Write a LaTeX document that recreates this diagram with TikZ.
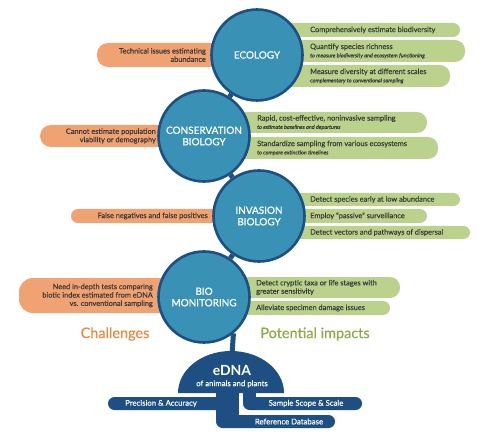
\documentclass[tikz,border=0pt]{standalone}
\usepackage{fontspec}
\setmainfont{Lato}
\newfontfamily\medfont{Lato}[FakeBold=0.7]
\newfontfamily\barfont{Lato}[FakeBold=0.3]
\definecolor{ednaNavy}{HTML}{1D4F82}
\definecolor{ednaTeal}{HTML}{3A91B6}
\definecolor{ednaGreen}{HTML}{BAD28C}
\definecolor{ednaOrange}{HTML}{F1A272}
\definecolor{ednaText}{HTML}{3A3A3A}
\definecolor{ednaOrangeDeep}{HTML}{E38D48}
\definecolor{ednaGreenDeep}{HTML}{8EAB4B}

\begin{document}
\begin{tikzpicture}[x=1bp,y=-1bp,
  hub/.style={circle,minimum size=91bp,inner sep=0pt,fill=ednaTeal,draw=ednaNavy,line width=2.6bp,
    text=white,align=center,font=\fontsize{10}{11.5}\medfont},
  trunk/.style={ednaNavy,line width=5bp},
  gbar/.style={fill=ednaGreen},
  obar/.style={fill=ednaOrange},
  nbar/.style={fill=ednaNavy},
  gtxt/.style={anchor=west,align=left,inner sep=0pt,text=ednaText,font=\fontsize{7.4}{8.4}\barfont},
  otxt/.style={anchor=east,align=right,inner sep=0pt,text=ednaText,font=\fontsize{7.4}{8.4}\barfont},
  ntxt/.style={inner sep=0pt,text=white,font=\fontsize{7.8}{9}\barfont}]
\useasboundingbox (0,0) rectangle (500,435);
\newcommand\sub[1]{{\fontsize{5.5}{6.5}\selectfont\itshape #1}}

% challenge bars
\fill[obar,rounded corners=11bp] (97,43) rectangle (240,67);
\fill[obar,rounded corners=11bp] (40,125) rectangle (190,147);
\fill[obar,rounded corners=7bp] (71,209) rectangle (240,223);
\fill[obar,rounded corners=14bp] (19,278) rectangle (190,313);

% impact bars
\fill[gbar,rounded corners=7bp] (280,23) rectangle (460,37);
\fill[gbar,rounded corners=10bp] (280,40) rectangle (465,62);
\fill[gbar,rounded corners=10bp] (280,65) rectangle (450,87);
\fill[gbar,rounded corners=10bp] (230,112) rectangle (427,133);
\fill[gbar,rounded corners=10bp] (230,137) rectangle (438,159);
\fill[gbar,rounded corners=6.5bp] (290,193) rectangle (460,206);
\fill[gbar,rounded corners=7bp] (290,209) rectangle (427,223);
\fill[gbar,rounded corners=6.5bp] (290,226) rectangle (470,239);
\fill[gbar,rounded corners=10bp] (230,277) rectangle (400,298);
\fill[gbar,rounded corners=7bp] (230,301) rectangle (390,315);

% circles
\node[hub] (eco) at (257,55) {ECOLOGY};
\node[hub] (cons) at (204,136) {CONSERVATION\\BIOLOGY};
\node[hub] (inv) at (259,216) {INVASION\\BIOLOGY};
\node[hub] (bio) at (204,297) {BIO\\MONITORING};
\coordinate (ednatop) at (232,354);
\draw[trunk] (eco) -- (cons);
\draw[trunk] (cons) -- (inv);
\draw[trunk] (inv) -- (bio);
\draw[trunk] (bio.-51) -- (ednatop);

% eDNA base
\fill[nbar] (178,393) arc[start angle=180,end angle=0,x radius=53bp,y radius=42bp] -- cycle;
\fill[nbar] (216,390) rectangle (239,420);
\fill[nbar,rounded corners=6.5bp] (108,397) rectangle (224,410);
\fill[nbar,rounded corners=6.5bp] (243,397) rectangle (362,410);
\fill[nbar] (243,390) rectangle (256,402);
\fill[nbar,rounded corners=6.5bp] (216,415) rectangle (335,428);
\node[inner sep=0pt,text=white,font=\fontsize{14}{16}\selectfont\bfseries] (edna) at (232,371) {eDNA};
\node[ntxt,font=\fontsize{7.8}{9}\medfont] (ednasub) at (232,384) {of animals and plants};
\node[ntxt] (prec) at (161,403.5) {Precision \& Accuracy};
\node[ntxt] (scope) at (306,403.5) {Sample Scope \& Scale};
\node[ntxt] (refdb) at (289,421.5) {Reference Database};

% texts
\node[otxt] (ecoC) at (206,55) {Technical issues estimating\\abundance};
\node[otxt] (consC) at (156,136) {Cannot estimate population\\viability or demography};
\node[otxt] (invC) at (208,216) {False negatives and false positives};
\node[otxt] (bioC) at (153,295.5) {Need in-depth tests comparing\\biotic index estimated from eDNA\\vs. conventional sampling};

\node[gtxt] (ecoP1) at (310,30) {Comprehensively estimate biodiversity};
\node[gtxt] (ecoP2) at (310,51) {Quantify species richness\\\sub{to measure biodiversity and ecosystem functioning}};
\node[gtxt] (ecoP3) at (310,76) {Measure diversity at different scales\\\sub{complementary to conventional sampling}};
\node[gtxt] (consP1) at (257,122.5) {Rapid, cost-effective, noninvasive sampling\\\sub{to estimate baselines and departures}};
\node[gtxt] (consP2) at (257,148) {Standardize sampling from various ecosystems\\\sub{to compare extinction timelines}};
\node[gtxt] (invP1) at (310,199.5) {Detect species early at low abundance};
\node[gtxt] (invP2) at (310,216) {Employ “passive” surveillance};
\node[gtxt] (invP3) at (310,232.5) {Detect vectors and pathways of dispersal};
\node[gtxt] (bioP1) at (256,287.5) {Detect cryptic taxa or life stages with\\greater sensitivity};
\node[gtxt] (bioP2) at (256,308) {Alleviate specimen damage issues};

\node[text=ednaOrangeDeep,font=\fontsize{14.5}{16}\medfont] (chal) at (115,334) {Challenges};
\node[text=ednaGreenDeep,font=\fontsize{14.5}{16}\medfont] (impact) at (315,334) {Potential impacts};
\end{tikzpicture}
\end{document}
